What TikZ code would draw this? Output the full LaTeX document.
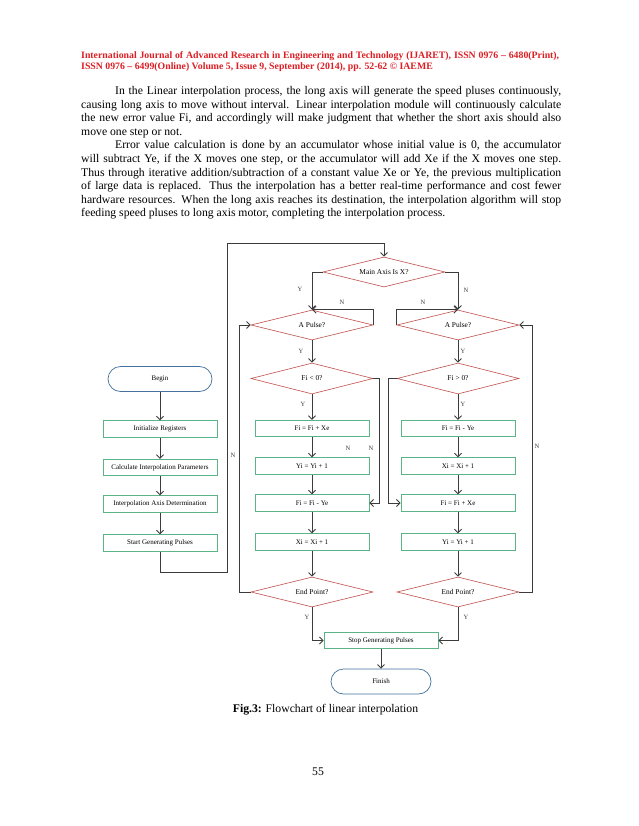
\documentclass[tikz,border=0pt]{standalone}
\usepackage{fontspec}
\setmainfont{Liberation Serif}
\usetikzlibrary{shapes.geometric,arrows.meta}
\definecolor{hdr}{RGB}{220,30,36}
\definecolor{dia}{RGB}{192,80,77}
\definecolor{boxc}{RGB}{90,180,135}
\definecolor{termc}{RGB}{65,113,156}
\definecolor{ln}{RGB}{60,60,60}
\begin{document}
\begin{tikzpicture}[x=1pt,y=-1pt,
  dec/.style={diamond,aspect=4,draw=dia,line width=0.6pt,minimum width=122pt,minimum height=30pt,inner sep=0pt,font=\fontsize{7.4}{8}\selectfont},
  proc/.style={rectangle,draw=boxc,line width=0.8pt,minimum width=114pt,minimum height=16.5pt,inner sep=0pt,font=\fontsize{7}{8}\selectfont},
  termbox/.style={rectangle,rounded corners=12.5pt,draw=termc,line width=0.7pt,minimum width=104pt,minimum height=25pt,inner sep=0pt,font=\fontsize{7}{8}\selectfont},
  conn/.style={draw=ln,line width=0.9pt,-{Straight Barb[length=3.5pt,width=7pt]}},
  lbl/.style={font=\fontsize{6.5}{7}\selectfont,inner sep=0pt,text=ln},
  body/.style={anchor=base west,inner sep=0pt,font=\fontsize{11.7}{13.5}\selectfont},
  hd/.style={anchor=base west,inner sep=0pt,text=hdr,font=\fontsize{9.8}{11}\selectfont\bfseries}
]
\useasboundingbox[fill=white] (0,0) rectangle (638,826);
% header
\node[hd] (h1) at (81,58.4) {\hbox to 478pt{International Journal of Advanced Research in Engineering and Technology (IJARET), ISSN 0976 – 6480(Print),}};
\node[hd] (h2) at (81,69.6) {ISSN 0976 – 6499(Online) Volume 5, Issue 9, September (2014), pp. 52-62 © IAEME};
% body text
\node[body] (t1) at (115,94.5) {\hbox to 446pt{In the Linear interpolation process, the long axis will generate the speed pluses continuously,}};
\node[body] (t2) at (81,108.1) {\hbox to 480pt{causing long axis to move without interval. Linear interpolation module will continuously calculate}};
\node[body] (t3) at (81,121.7) {\hbox to 480pt{the new error value Fi, and accordingly will make judgment that whether the short axis should also}};
\node[body] (t4) at (81,135.3) {move one step or not.};
\node[body] (t5) at (115,148.9) {\hbox to 446pt{Error value calculation is done by an accumulator whose initial value is 0, the accumulator}};
\node[body] (t6) at (81,162.5) {\hbox to 480pt{will subtract Ye, if the X moves one step, or the accumulator will add Xe if the X moves one step.}};
\node[body] (t7) at (81,176.1) {\hbox to 480pt{Thus through iterative addition/subtraction of a constant value Xe or Ye, the previous multiplication}};
\node[body] (t8) at (81,189.7) {\hbox to 480pt{of large data is replaced. Thus the interpolation has a better real-time performance and cost fewer}};
\node[body] (t9) at (81,203.3) {\hbox to 480pt{hardware resources. When the long axis reaches its destination, the interpolation algorithm will stop}};
\node[body] (t10) at (81,216.9) {feeding speed pluses to long axis motor, completing the interpolation process.};
% flowchart: left column
\node[termbox] (begin) at (160,379) {Begin};
\node[proc] (s1) at (160,429) {Initialize Registers};
\node[proc] (s2) at (160,467.5) {Calculate Interpolation Parameters};
\node[proc] (s3) at (160,504) {Interpolation Axis Determination};
\node[proc] (s4) at (160,543) {Start Generating Pulses};
% decisions
\node[dec] (main) at (384,272) {Main Axis Is X?};
\node[dec] (ap1) at (312,325) {A Pulse?};
\node[dec] (ap2) at (458,325) {A Pulse?};
\node[dec,minimum height=31pt] (fi1) at (312,378.5) {Fi < 0?};
\node[dec,minimum height=31pt] (fi2) at (458,378.5) {Fi > 0?};
\node[proc] (l1) at (312,428.5) {Fi = Fi + Xe};
\node[proc] (l2) at (312,466) {Yi = Yi + 1};
\node[proc] (l3) at (312,503) {Fi = Fi - Ye};
\node[proc] (l4) at (312,542) {Xi = Xi + 1};
\node[proc] (r1) at (458,428.5) {Fi = Fi - Ye};
\node[proc] (r2) at (458,466) {Xi = Xi + 1};
\node[proc] (r3) at (458,503) {Fi = Fi + Xe};
\node[proc] (r4) at (458,542) {Yi = Yi + 1};
\node[dec] (ep1) at (312,592) {End Point?};
\node[dec] (ep2) at (458,592) {End Point?};
\node[proc] (stop) at (381,640.5) {Stop Generating Pulses};
\node[termbox,minimum width=100pt] (finish) at (381,681.5) {Finish};
% helper coordinates
\coordinate (fb) at (160,572);
\coordinate (ft) at (227,243);
\coordinate (nl) at (379,0);
\coordinate (nr) at (388,0);
\coordinate (el) at (239,0);
\coordinate (er) at (532,0);
% connectors
\draw[conn] (begin) -- (s1);
\draw[conn] (s1) -- (s2);
\draw[conn] (s2) -- (s3);
\draw[conn] (s3) -- (s4);
\draw[conn] (s4.south) -- (fb) -| (ft) -| (main.north);
\draw[conn] (main.west) -| (ap1.north);
\draw[conn] (main.east) -| (ap2.north);
\draw[conn] (ap1.east) |- (ap1.north);
\draw[conn] (ap2.west) |- (ap2.north);
\draw[conn] (ap1.south) -- (fi1.north);
\draw[conn] (ap2.south) -- (fi2.north);
\draw[conn] (fi1.south) -- (l1.north);
\draw[conn] (fi2.south) -- (r1.north);
\draw[conn] (l1) -- (l2);
\draw[conn] (l2) -- (l3);
\draw[conn] (l3) -- (l4);
\draw[conn] (l4.south) -- (ep1.north);
\draw[conn] (r1) -- (r2);
\draw[conn] (r2) -- (r3);
\draw[conn] (r3) -- (r4);
\draw[conn] (r4.south) -- (ep2.north);
\draw[conn] (fi1.east) -- (fi1.east -| nl) |- (l3.east);
\draw[conn] (fi2.west) -- (fi2.west -| nr) |- (r3.west);
\draw[conn] (ep1.west) -- (ep1.west -| el) |- (ap1.west);
\draw[conn] (ep2.east) -- (ep2.east -| er) |- (ap2.east);
\draw[conn] (ep1.south) |- (stop.west);
\draw[conn] (ep2.south) |- (stop.east);
\draw[conn] (stop) -- (finish);
% labels
\node[lbl] (y1) at (300,289) {Y};
\node[lbl] (n1) at (466,290) {N};
\node[lbl] (n2) at (342,302) {N};
\node[lbl] (n3) at (423,302) {N};
\node[lbl] (y2) at (301,351) {Y};
\node[lbl] (y3) at (463,351) {Y};
\node[lbl] (y4) at (303,404) {Y};
\node[lbl] (y5) at (463,404) {Y};
\node[lbl] (n4) at (348,448) {N};
\node[lbl] (n5) at (371,448) {N};
\node[lbl] (n6) at (233,455) {N};
\node[lbl] (n7) at (537,446) {N};
\node[lbl] (y6) at (307,617) {Y};
\node[lbl] (y7) at (466,617) {Y};
% caption and page number
\node[anchor=base,inner sep=0pt,font=\fontsize{11.7}{13.5}\selectfont] (cap) at (325.5,712.5) {\textbf{Fig.3:} Flowchart of linear interpolation};
\node[anchor=base,inner sep=0pt,font=\fontsize{11.7}{13.5}\selectfont] (pg) at (318,775) {55};
\end{tikzpicture}
\end{document}
